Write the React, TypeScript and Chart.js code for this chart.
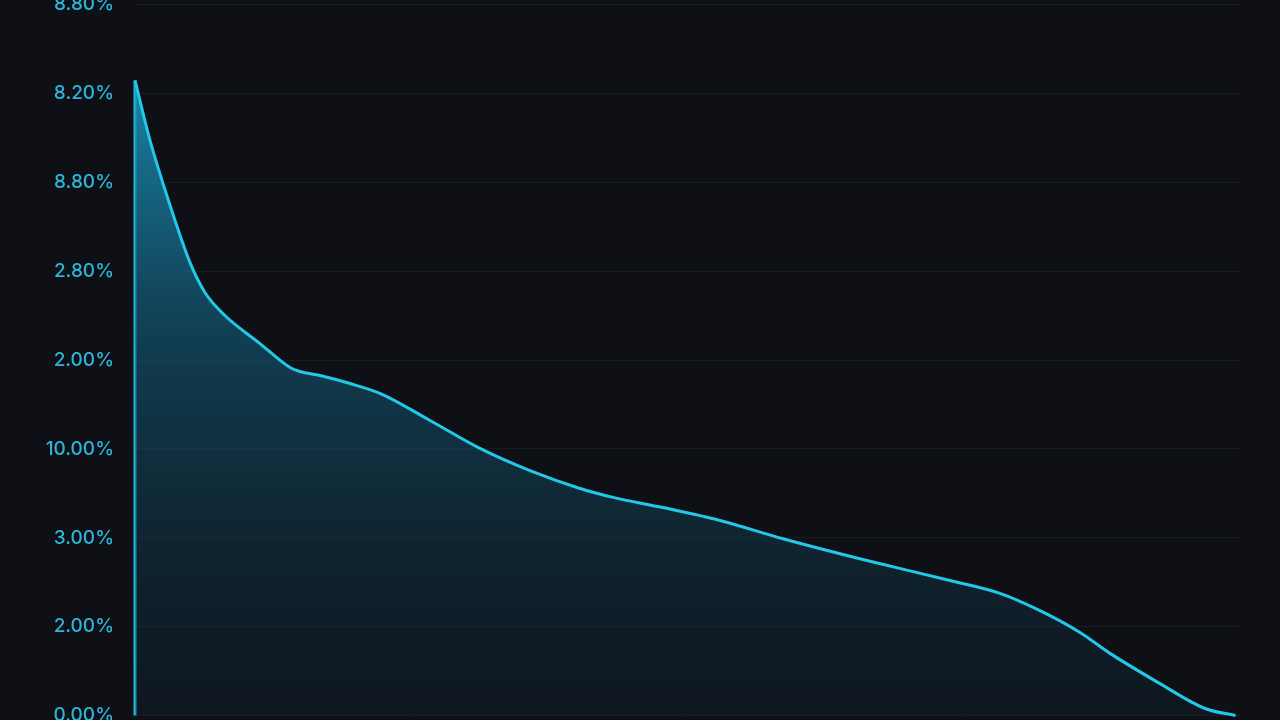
import React, { useEffect, useRef } from "react";
import { Chart, registerables } from "chart.js";

Chart.register(...registerables);

// x position (progress units 0..100) and value in %
const xs = [0, 1.36, 3.17, 4.98, 6.33, 8.14, 11.31, 14.03, 14.93, 16.74, 19.46, 22.17, 26.7, 31.22, 35.75, 40.27, 43.26, 47.78, 52.94, 58.64, 66.24, 73.76, 78.28, 81.9, 85.52, 88.24, 92.76, 96.83, 99.6];
const values = [14.29, 12.94, 11.48, 10.19, 9.52, 9.0, 8.37, 7.83, 7.74, 7.65, 7.47, 7.25, 6.64, 6.01, 5.51, 5.11, 4.91, 4.68, 4.39, 3.98, 3.49, 3.04, 2.75, 2.36, 1.87, 1.4, 0.72, 0.16, 0];
// tick labels as printed on the axis, bottom to top (value 0, 2, 4, ... 16)
const tickLabels = ["0.00%", "2.00%", "3.00%", "10.00%", "2.00%", "2.80%", "8.80%", "8.20%", "8.80%"];

export default function App() {
  const ref = useRef<HTMLCanvasElement>(null);
  useEffect(() => {
    const canvas = ref.current!;
    const chart = new Chart(canvas, {
      type: "line",
      data: {
        datasets: [
          {
            data: xs.map((x, i) => ({ x, y: values[i] })),
            borderColor: "#22c8e6",
            borderWidth: 3,
            pointRadius: 0,
            cubicInterpolationMode: "monotone",
            fill: "origin",
            clip: 6,
            backgroundColor: (context: any) => {
              const { ctx, chartArea } = context.chart;
              if (!chartArea) return "rgba(20,100,130,0.5)";
              const g = ctx.createLinearGradient(0, chartArea.top + 70, 0, chartArea.bottom);
              g.addColorStop(0, "rgba(30,155,195,0.85)");
              g.addColorStop(0.4, "rgba(20,95,125,0.6)");
              g.addColorStop(1, "rgba(16,45,60,0.25)");
              return g;
            },
          },
          {
            data: [
              { x: xs[0], y: 0 },
              { x: xs[0], y: values[0] },
            ],
            borderColor: "#1fb8da",
            borderWidth: 3,
            pointRadius: 0,
            fill: false,
            clip: 6,
          },
        ],
      },
      options: {
        animation: false,
        responsive: false,
        devicePixelRatio: 1,
        layout: { padding: { left: 0, right: 40, top: 2, bottom: 17 } },
        plugins: { legend: { display: false }, tooltip: { enabled: false } },
        scales: {
          x: { type: "linear", min: 0, max: 100, display: false },
          y: {
            min: 0,
            max: 16,
            afterFit: (scale: any) => {
              scale.width = 135;
            },
            border: { display: false },
            grid: { color: "rgba(110,160,180,0.09)", lineWidth: 1, drawTicks: false },
            ticks: {
              stepSize: 2,
              padding: 21,
              color: "#2bb6d9",
              font: { family: "Inter", size: 19, weight: 500 },
              callback: (v: any) => tickLabels[Math.round(Number(v) / 2)] ?? "",
            },
          },
        },
      },
    });
    return () => chart.destroy();
  }, []);
  return (
    <div style={{ position: "fixed", inset: 0, overflow: "hidden", background: "#0e1016" }}>
      <div style={{ position: "absolute", left: 0, top: -28, width: 1280, height: 776 }}>
        <canvas ref={ref} width={1280} height={776} />
      </div>
    </div>
  );
}
